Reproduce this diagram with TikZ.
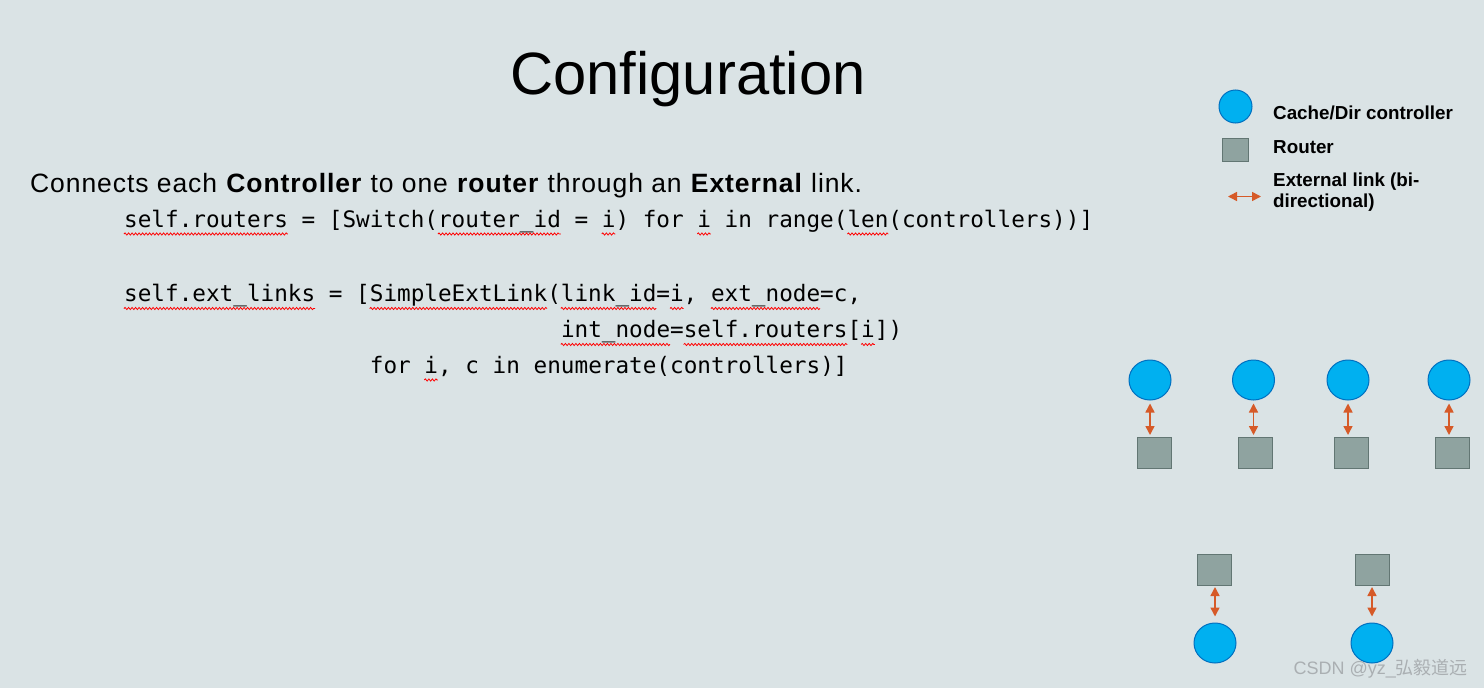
\documentclass[tikz,border=0pt]{standalone}
\usepackage{fontspec}
\setmainfont{Liberation Sans}
\setmonofont{DejaVu Sans Mono}
\newfontfamily\cjkfont{Noto Sans CJK SC}
\usetikzlibrary{shapes}
\usetikzlibrary{arrows.meta}
\usetikzlibrary{decorations.pathmorphing}
\definecolor{slide_bg}{RGB}{218,227,229}
\definecolor{ctrl_fill}{RGB}{0,176,240}
\definecolor{ctrl_line}{RGB}{0,112,192}
\definecolor{router_fill}{RGB}{143,163,160}
\definecolor{router_line}{RGB}{98,118,115}
\definecolor{link_col}{RGB}{214,90,40}
\definecolor{mark_col}{RGB}{170,175,178}
\tikzset{
	node_ctrl/.style = {
		ellipse,
		draw=ctrl_line,
		fill=ctrl_fill,
		line width=1pt,
		inner sep=0pt,
		minimum width=42pt,
		minimum height=40pt
	},
	node_router/.style = {
		rectangle,
		draw=router_line,
		fill=router_fill,
		line width=1pt,
		inner sep=0pt,
		minimum width=34pt,
		minimum height=31pt
	},
	link_ext/.style = {
		{Triangle[width=9pt,length=9pt]}-{Triangle[width=9pt,length=9pt]},
		draw=link_col,
		line width=1.5pt
	},
	legend_text/.style = {
		anchor=base west,
		align=left,
		inner sep=0pt,
		font=\fontsize{18.8}{20.5}\selectfont\bfseries
	},
	code_line/.style = {
		anchor=base west,
		inner sep=0pt,
		font=\fontsize{22.67}{27}\selectfont\ttfamily
	},
	squiggle/.style = {
		draw=red,
		line width=0.8pt,
		decorate,
		decoration={snake, amplitude=1.1pt, segment length=3.5pt}
	},
}

\begin{document}
\begin{tikzpicture}[x=1pt, y=-1pt]
\useasboundingbox (0,0) rectangle (1484,688);
\fill[slide_bg] (0,0) rectangle (1484,688);

\node [anchor=base, inner sep=0pt, font=\fontsize{59.7}{70}\selectfont] (title) at (688,94) {Configuration};
\node [anchor=base west, inner sep=0pt, font=\fontsize{26.5}{30}\selectfont\addfontfeature{LetterSpace=3.5}] (intro) at (30,192.5)
	{Connects each \textbf{Controller} to one \textbf{router} through an \textbf{External} link.};

\node [code_line] (code_a) at (124,227) {self.routers = [Switch(router\_id = i) for i in range(len(controllers))]};
\node [code_line] (code_b) at (124,301.5) {self.ext\_links = [SimpleExtLink(link\_id=i, ext\_node=c,};
\node [code_line] (code_c) at (124+32*13.65,337.5) {int\_node=self.routers[i])};
\node [code_line] (code_d) at (124+18*13.65,373) {for i, c in enumerate(controllers)]};

\foreach \yb/\st/\len in {227/0/12, 227/23/9, 227/35/1, 227/42/1, 227/53/3,
	301.5/0/14, 301.5/18/13, 301.5/32/7, 301.5/40/1, 301.5/43/8,
	337.5/32/8, 337.5/41/12, 337.5/54/1, 373/22/1}
	\draw [squiggle] (124+\st*13.65,\yb+7) -- ++(\len*13.65,0);

\node [node_ctrl, minimum width=33pt, minimum height=33pt] (legend_ctrl) at (1235.5,106.5) {};
\node [node_router, minimum width=26pt, minimum height=23pt] (legend_router) at (1235,149.5) {};
\coordinate (legend_l) at (1228,196.5);
\coordinate (legend_r) at (1261,196.5);
\draw [link_ext] (legend_l) -- (legend_r);
\node [legend_text] (legend_ctrl_txt) at (1273,119) {Cache/Dir controller};
\node [legend_text] (legend_router_txt) at (1273,153) {Router};
\node [legend_text] (legend_link_txt) at (1273,207) {External link (bi-\\directional)};

\foreach \n/\xc/\xr in {a/1150/1154, b/1253.5/1255, c/1348/1351, d/1449/1452} {
	\node [node_ctrl] (ctrl_\n) at (\xc,380) {};
	\node [node_router] (router_\n) at (\xr,452.5) {};
	\draw [link_ext, shorten <=3pt, shorten >=1.5pt] (ctrl_\n.south) -- (ctrl_\n.south |- router_\n.north);
}
\foreach \n/\xc/\xr in {e/1215/1214, f/1372/1372.5} {
	\node [node_router] (router_\n) at (\xr,570) {};
	\node [node_ctrl] (ctrl_\n) at (\xc,643) {};
	\draw [link_ext, shorten <=1pt, shorten >=6pt] (ctrl_\n.north |- router_\n.south) -- (ctrl_\n.north);
}

\node [anchor=base east, inner sep=0pt, text=mark_col, font=\fontsize{18}{20}\selectfont] (watermark) at (1468,674)
	{CSDN @yz\_{\cjkfont 弘毅道远}};
\end{tikzpicture}
\end{document}
